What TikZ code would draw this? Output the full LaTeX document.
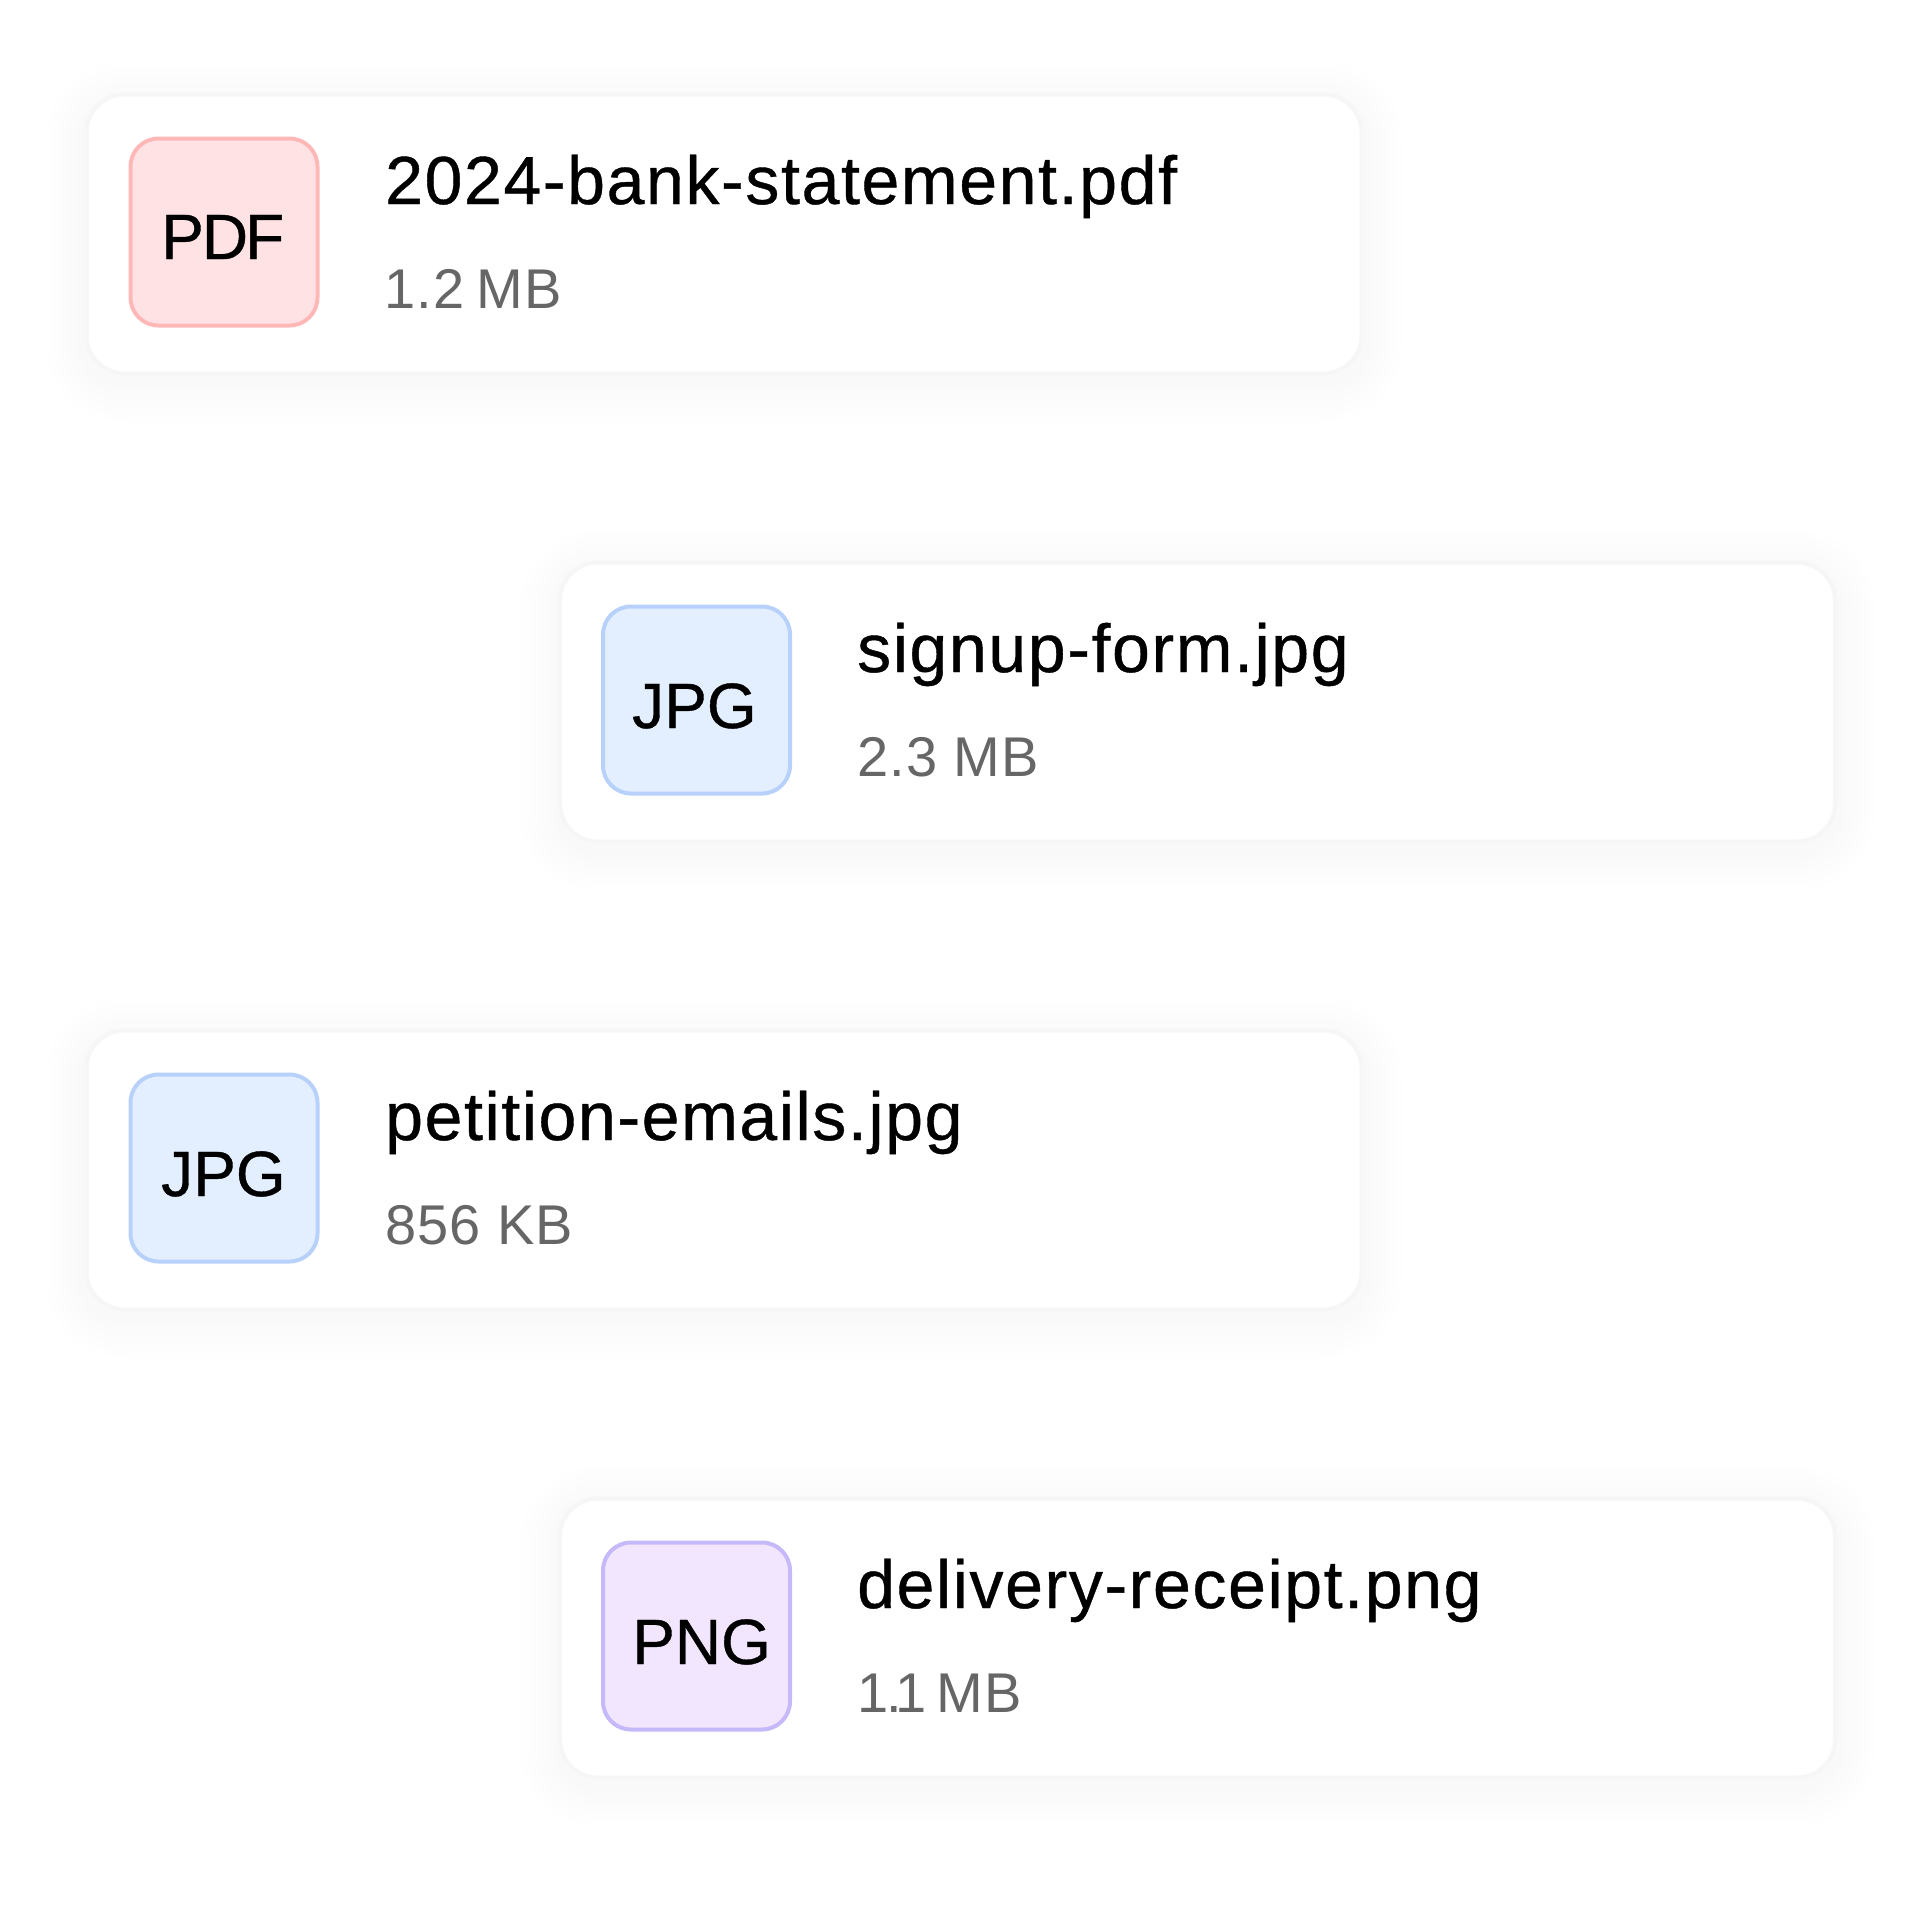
\documentclass[tikz,border=0pt]{standalone}
\usepackage{fontspec}
\setmainfont{Liberation Sans}
\newfontfamily\namefont[LetterSpace=2.4,FakeBold=0.6]{Liberation Sans}
\newfontfamily\kindfont[FakeBold=0.6]{Liberation Sans}
\newfontfamily\sizefont[LetterSpace=2]{Liberation Sans}
\usetikzlibrary{positioning}

\definecolor{pdffill}{HTML}{FFE3E4}
\definecolor{pdfline}{HTML}{FFB8B8}
\definecolor{jpgfill}{HTML}{E3EFFE}
\definecolor{jpgline}{HTML}{B8D1FB}
\definecolor{pngfill}{HTML}{F2E5FE}
\definecolor{pngline}{HTML}{C6B9FA}
\definecolor{sizegray}{HTML}{666666}
\definecolor{cardrim}{HTML}{F6F6F6}

\tikzset{
	cardbox/.style={fill=white, draw=cardrim, line width=4pt, rounded corners=38pt, minimum width=1275pt, minimum height=279pt, anchor=north west, inner sep=0pt, outer sep=0pt},
	iconbox/.style={rounded corners=28pt, line width=4pt, minimum width=187pt, minimum height=187pt, inner sep=0pt},
	kindtext/.style={anchor=base west, inner sep=0pt, font=\kindfont\fontsize{64}{70}\selectfont},
	nametext/.style={anchor=base west, inner sep=0pt, font=\namefont\fontsize{68}{72}\selectfont},
	sizetext/.style={anchor=base west, inner sep=0pt, text=sizegray, font=\sizefont\fontsize{56}{64}\selectfont}
}

% soft shadow under a card, one grey level per step
\newcommand{\cardshadow}[2]{
	\foreach \lev/\grow in {254/38, 253/31, 252/24, 251/17, 250/10, 249/4}
		\fill[color={rgb,255:red,\lev;green,\lev;blue,\lev}, rounded corners=40pt+\grow*1pt] (#1-\grow, #2+8-\grow) rectangle ++(1279+2*\grow, 283+2*\grow);
}

\begin{document}
\begin{tikzpicture}[x=1pt, y=-1pt]
	\useasboundingbox (0,0) rectangle (1920,1920);
	\cardshadow{84.5}{92.5}
	\cardshadow{558}{560.5}
	\cardshadow{84.5}{1028.5}
	\cardshadow{558}{1496.5}

	% first row
	\node (cardA) [cardbox] at (86.5,94.5) {};
	\node (iconA) [iconbox, fill=pdffill, draw=pdfline] at (224,232) {};
	\node (kindA) [kindtext] at (161,259) {P\kern-2pt D\kern-3pt F};
	\node (nameA) [nametext] at (385,204) {2024-bank-statement.pdf};
	\node (sizeA) [sizetext] at (385,308) {\kern-1pt 1.2\kern-4pt\ MB};

	% second row
	\node (cardB) [cardbox] at (560,562.5) {};
	\node (iconB) [iconbox, fill=jpgfill, draw=jpgline] at (696.5,700) {};
	\node (kindB) [kindtext] at (632,728) {JPG};
	\node (nameB) [nametext] at (857,672) {signup-form.jpg};
	\node (sizeB) [sizetext] at (857,776) {2.3 MB};

	% third row
	\node (cardC) [cardbox] at (86.5,1030.5) {};
	\node (iconC) [iconbox, fill=jpgfill, draw=jpgline] at (224,1168) {};
	\node (kindC) [kindtext] at (161,1196) {JPG};
	\node (nameC) [nametext] at (385,1140) {petition-emails.jpg};
	\node (sizeC) [sizetext] at (385,1244) {856 KB};

	% fourth row
	\node (cardD) [cardbox] at (560,1498.5) {};
	\node (iconD) [iconbox, fill=pngfill, draw=pngline] at (696.5,1636) {};
	\node (kindD) [kindtext] at (632,1664) {PNG};
	\node (nameD) [nametext] at (857,1608) {delivery-receipt.png};
	\node (sizeD) [sizetext] at (857,1712) {1\kern-2pt .\kern-6pt 1\kern-7pt\ MB};
\end{tikzpicture}
\end{document}
